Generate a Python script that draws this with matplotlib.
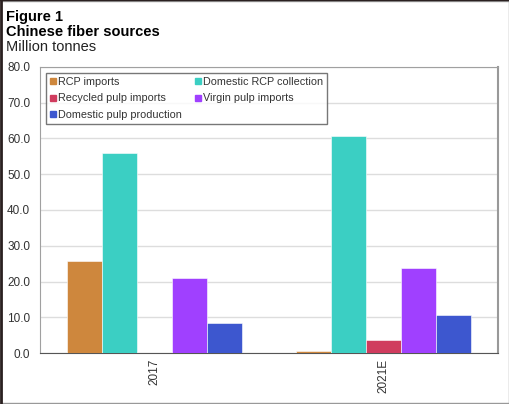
import numpy as np
import matplotlib
matplotlib.use("Agg")
import matplotlib.pyplot as plt
from matplotlib.patches import Rectangle
from matplotlib.lines import Line2D

plt.rcParams["font.family"] = ["Liberation Sans", "DejaVu Sans"]

# data
years = ["2017", "2021E"]
series = ["RCP imports", "Domestic RCP collection", "Recycled pulp imports",
          "Virgin pulp imports", "Domestic pulp production"]
rcp_imports = [25.6, 0.5]
domestic_rcp = [55.9, 60.6]
recycled_pulp = [0.0, 3.6]
virgin_pulp = [20.9, 23.8]
domestic_pulp = [8.5, 10.5]
colors = ["#CE873D", "#3BCFC3", "#D03C5E", "#A040FF", "#3D57CF"]
yticks = [0, 10, 20, 30, 40, 50, 60, 70, 80]

values = [rcp_imports, domestic_rcp, recycled_pulp, virgin_pulp, domestic_pulp]

fig = plt.figure(figsize=(5.1, 4.04), dpi=100)
ax = fig.add_axes([0.0784, 0.1262, 0.898, 0.708])

x = np.arange(len(years))
w = 0.153
for i, (name, vals, c) in enumerate(zip(series, values, colors)):
    ax.bar(x + (i - 2) * w, vals, width=w, color=c, label=name,
           edgecolor="white", linewidth=0.4, zorder=3)

ax.set_xlim(-0.5, len(years) - 0.5)
ax.set_ylim(0, 80)
ax.set_yticks(yticks)
ax.set_yticklabels([f"{v:.1f}" for v in yticks], fontsize=8.5, color="#333333")
ax.set_xticks(x)
ax.set_xticklabels(years, rotation=90, fontsize=8.5, color="#333333")
ax.tick_params(axis="y", length=0, pad=7)
ax.tick_params(axis="x", length=0, pad=4)
ax.grid(axis="y", color="#dddddd", lw=1, zorder=0)
for s in ["top", "left"]:
    ax.spines[s].set_color("#a0a0a0")
ax.spines["right"].set_color("#999999")
ax.spines["right"].set_linewidth(1.5)
ax.spines["bottom"].set_color("#555555")

# row-major legend order like the original (matplotlib fills column-wise)
order = [0, 2, 4, 1, 3]
handles = [Line2D([], [], marker="s", ls="", color=colors[i], markersize=4.5) for i in order]
leg = ax.legend(handles, [series[i] for i in order], ncol=2, loc="upper left",
                bbox_to_anchor=(0.013, 0.979), borderaxespad=0,
                fontsize=7.8, frameon=True, fancybox=False, handlelength=0.6,
                handletextpad=0.2, columnspacing=1.15, labelspacing=0.62,
                borderpad=0.35, labelcolor="#333333")
leg.get_frame().set_edgecolor("#555555")
leg.get_frame().set_linewidth(1)

fig.text(0.012, 0.957, "Figure 1", fontsize=10.5, fontweight="bold", va="center")
fig.text(0.012, 0.920, "Chinese fiber sources", fontsize=10.5, fontweight="bold", va="center")
fig.text(0.012, 0.884, "Million tonnes", fontsize=10.5, va="center", color="#222222")

# outer frame
fig.patches.append(Rectangle((0.001, 0.002), 0.997, 0.996, transform=fig.transFigure,
                             fill=False, edgecolor="#999999", lw=1))
fig.add_artist(Line2D([0.002, 0.002], [0, 1], transform=fig.transFigure, color="#2a2020", lw=2))
fig.add_artist(Line2D([0, 1], [0.999, 0.999], transform=fig.transFigure, color="#2a2020", lw=1))

fig.savefig("out.png", dpi=100)
